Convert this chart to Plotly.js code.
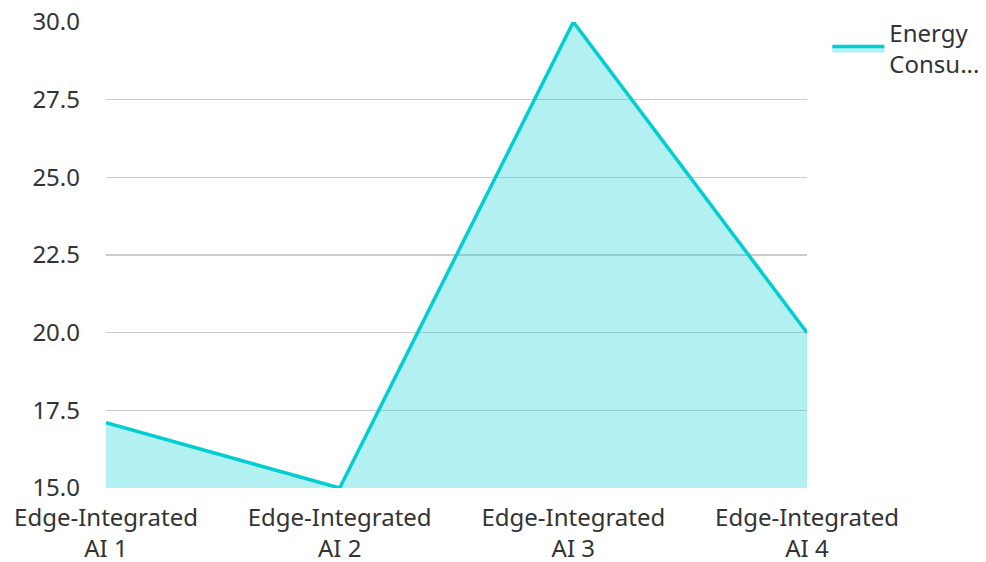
<!DOCTYPE html>
<html>
<head>
<meta charset="utf-8">
<script src="https://cdn.plot.ly/plotly-3.0.1.min.js"></script>
<style>html,body{margin:0;padding:0;background:#fff;}#chart{width:986px;height:562px;}</style>
</head>
<body>
<div id="chart"></div>
<script>
const categories = ["Edge-Integrated<br>AI 1", "Edge-Integrated<br>AI 2", "Edge-Integrated<br>AI 3", "Edge-Integrated<br>AI 4"];
const energyValues = [17.1, 15.0, 30.0, 20.0];
const seriesName = "Energy<br>Consu...";
const yTicks = [15, 17.5, 20, 22.5, 25, 27.5, 30];

const trace = {
  type: "scatter",
  mode: "lines",
  x: categories,
  y: energyValues,
  name: seriesName,
  fill: "tozeroy",
  fillcolor: "rgba(0,206,209,0.3)",
  line: {color: "#00CED1", width: 3.5},
  hoverinfo: "skip"
};

const layout = {
  width: 986,
  height: 562,
  margin: {l: 106, r: 179, t: 22, b: 74, autoexpand: false},
  paper_bgcolor: "#ffffff",
  plot_bgcolor: "#ffffff",
  font: {family: "Noto Sans, sans-serif", size: 24, color: "#333333"},
  showlegend: true,
  legend: {x: 1.029, y: 1.024, xanchor: "left", yanchor: "top", itemwidth: 52, font: {size: 24, color: "#333333"}},
  xaxis: {
    type: "category",
    automargin: false,
    showgrid: false,
    zeroline: false,
    showline: false,
    ticks: "",
    ticklabelstandoff: 13,
    tickfont: {size: 24, color: "#333333"},
    range: [0, 3]
  },
  yaxis: {
    automargin: false,
    range: [15, 30],
    tickvals: yTicks,
    tickformat: ".1f",
    showgrid: true,
    gridcolor: "#cccccc",
    gridwidth: 1.5,
    zeroline: false,
    showline: false,
    ticks: "",
    ticklabelstandoff: 25,
    tickfont: {size: 24, color: "#333333"}
  }
};

Plotly.newPlot("chart", [trace], layout, {displayModeBar: false, staticPlot: true});
</script>
</body>
</html>
